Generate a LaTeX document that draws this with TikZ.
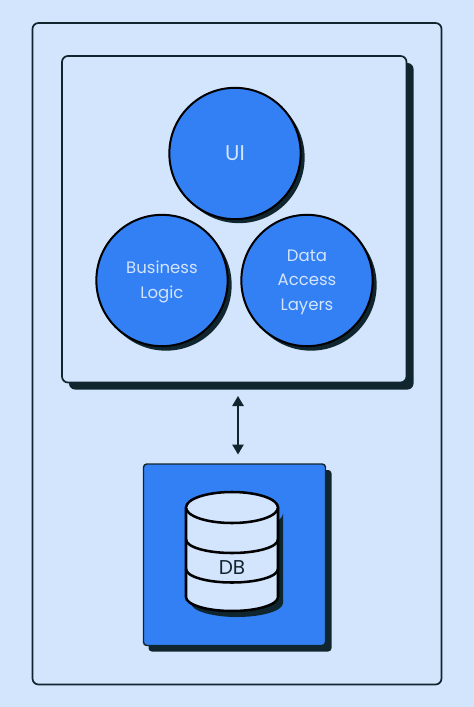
\documentclass[tikz,border=0pt]{standalone}
\usepackage{fontspec}
\setmainfont{Poppins}
\usetikzlibrary{arrows.meta}
\definecolor{bgc}{HTML}{D3E4FD}
\definecolor{bluec}{HTML}{3380F4}
\definecolor{darkc}{HTML}{10262F}
\definecolor{txtc}{HTML}{D3E4FD}
\tikzset{
  x=0.75pt,y=-0.75pt,
  frame/.style={draw=darkc,line width=1.3pt,rounded corners=4.5pt,fill=bgc},
  shadowbox/.style={fill=darkc,rounded corners=4.5pt},
  bubble/.style={circle,draw=black,line width=1.5pt,fill=bluec,minimum size=98.5pt,inner sep=0pt},
  bubbleshadow/.style={circle,fill=darkc,minimum size=98.5pt,inner sep=0pt},
  bubbletext/.style={inner sep=0pt,align=center,text=txtc,font=\fontsize{12.4pt}{18.4pt}\selectfont},
  cyl/.style={draw=black,line width=1.9pt,fill=bgc},
  link/.style={draw=darkc,line width=1.3pt,{Triangle[length=7.5pt,width=8.5pt]}-{Triangle[length=7.5pt,width=8.5pt]}}
}
\begin{document}
\begin{tikzpicture}
\useasboundingbox (0,0) rectangle (474,707);
\fill[bgc] (0,0) rectangle (474,707);
% outer frame
\draw[frame] (32.5,23) rectangle (441.5,684.5);
% upper box
\fill[shadowbox] (69,63) rectangle (413.5,389.5);
\draw[frame] (62,56) rectangle (406.5,382.5);
% bubbles
\node[bubbleshadow] (uis) at (239,157.5) {};
\node[bubbleshadow] (bls) at (166,285) {};
\node[bubbleshadow] (dals) at (311,285) {};
\node[bubble] (ui) at (235,153.5) {};
\node[bubble] (bl) at (162,280.5) {};
\node[bubble] (dal) at (307,280.5) {};
\node[bubbletext,font=\fontsize{16pt}{18pt}\selectfont] (uit) at (235,153.5) {UI};
\node[bubbletext] (blt) at (162,282) {Business\\Logic};
\node[bubbletext] (dalt) at (307,282) {Data\\Access\\Layers};
% database box
\fill[shadowbox,rounded corners=2.5pt] (148.5,470) rectangle (331.5,651.5);
\draw[draw=darkc,line width=1.1pt,fill=bluec,rounded corners=2.5pt] (143.5,464) rectangle (325.5,645.5);
% cylinder
\fill[darkc] (191,513.5) -- (191,603) arc[start angle=180,end angle=0,x radius=46,y radius=14] -- (283,513.5) arc[start angle=0,end angle=180,x radius=46,y radius=15.5] -- cycle;
\draw[cyl] (186,507.5) -- (186,597) arc[start angle=180,end angle=0,x radius=46,y radius=14] -- (278,507.5);
\draw[cyl,fill=none] (186,539.5) arc[start angle=180,end angle=0,x radius=46,y radius=13.5];
\draw[cyl,fill=none] (186,569) arc[start angle=180,end angle=0,x radius=46,y radius=13.5];
\draw[cyl] (232,507.5) ellipse[x radius=46,y radius=15.5];
\node[text=darkc,inner sep=0pt,font=\fontsize{15pt}{15pt}\selectfont] (db) at (232,567.5) {DB};
% connector
\coordinate (top) at (238,396);
\coordinate (bot) at (238,454.5);
\draw[link] (top) -- (bot);
\end{tikzpicture}
\end{document}
